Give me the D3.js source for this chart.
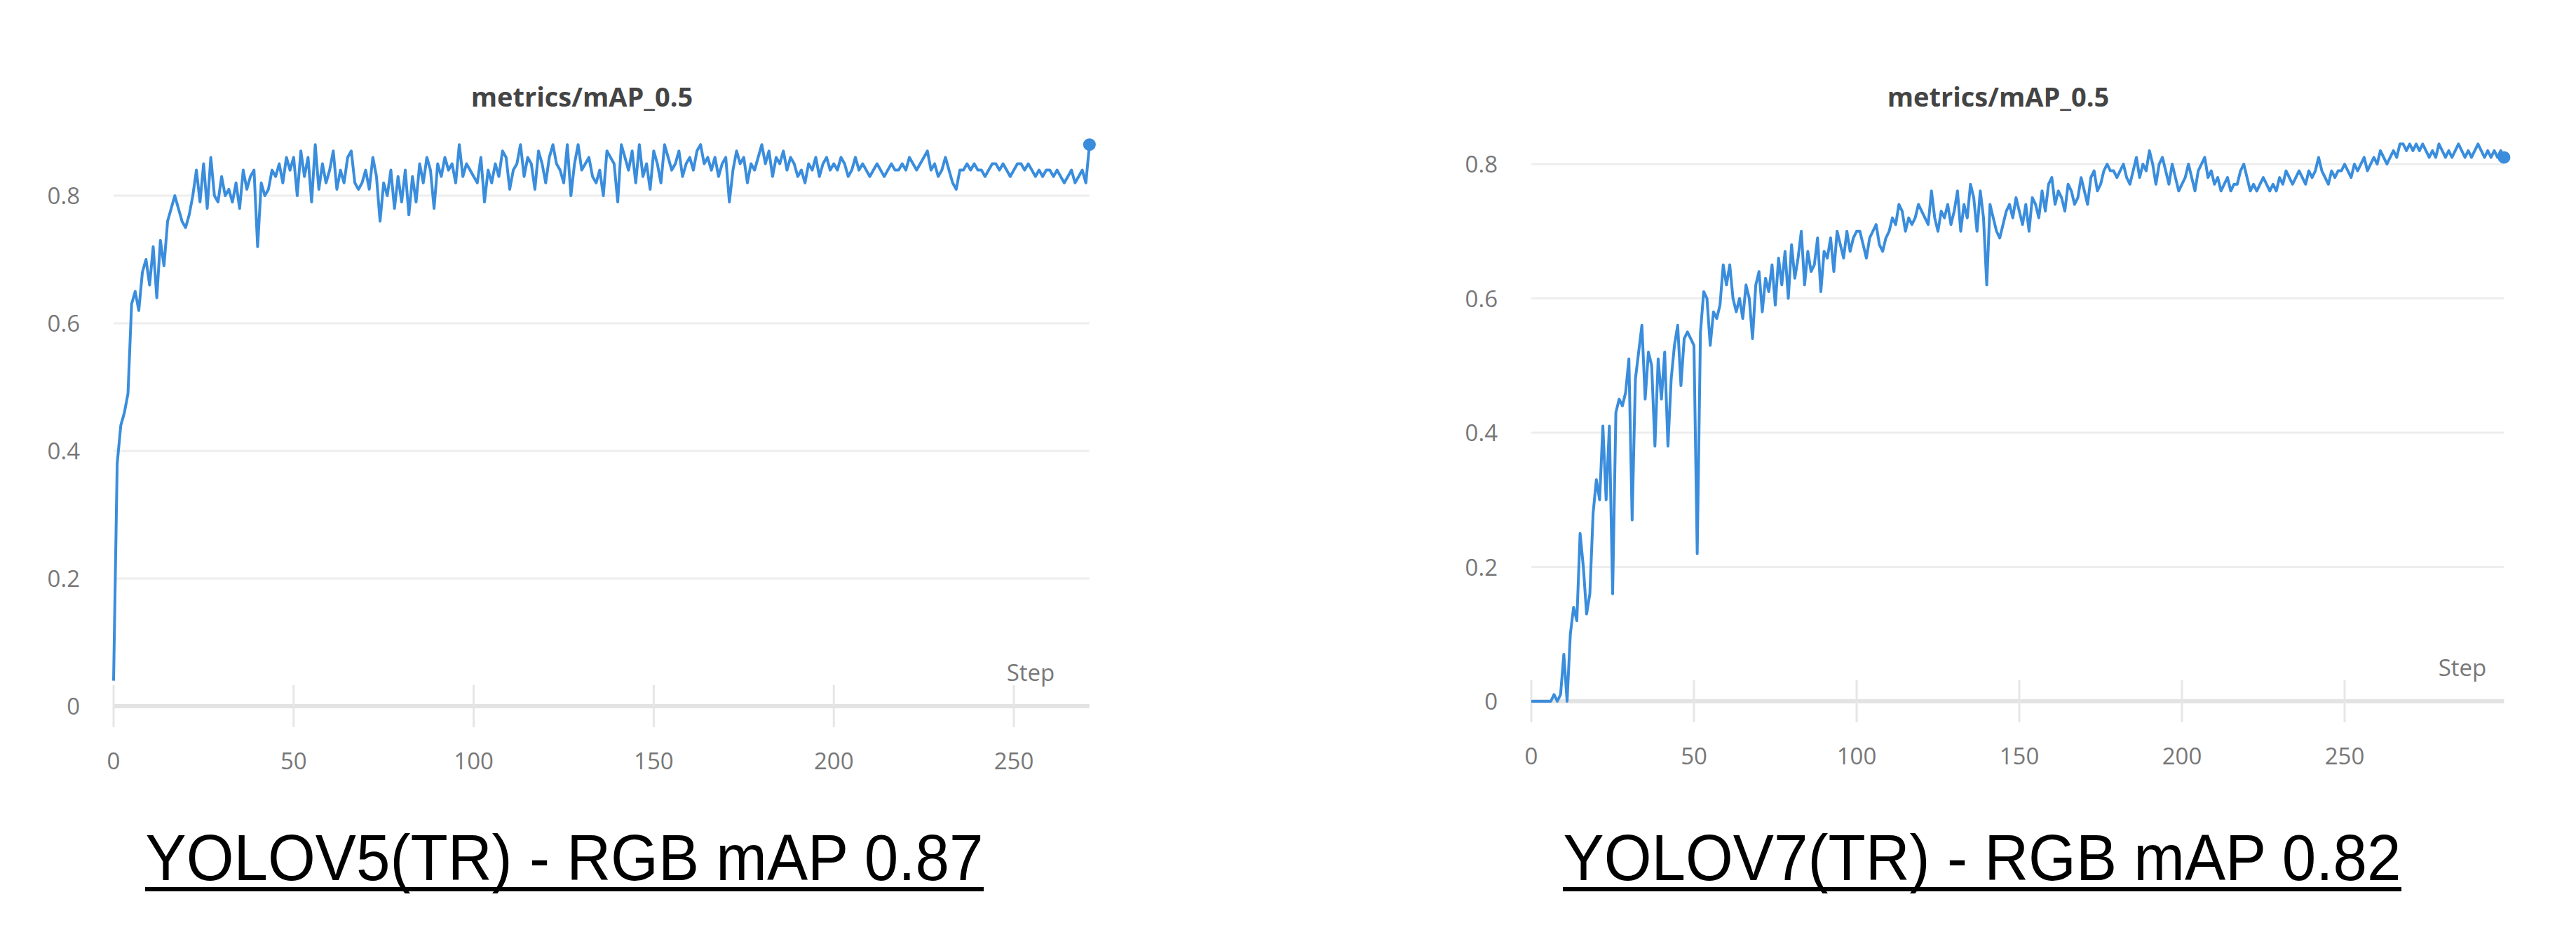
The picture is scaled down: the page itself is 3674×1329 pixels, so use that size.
<!DOCTYPE html>
<head>
    <script src="https://d3js.org/d3.v7.min.js"></script>
    <style>body{margin:0;background:#fff}</style>
</head>
<body>
    <svg class="chart" height="1329" width="3674"></svg>
    <script>
        // YOLOv5 mAP_0.5 per step
        var v5Values = [
        .04,.38,.44,.46,.49,.63,.65,.62,.68,.70,
        .66,.72,.64,.73,.69,.76,.78,.80,.78,.76,
        .75,.77,.80,.84,.79,.85,.78,.86,.80,.79,
        .83,.80,.81,.79,.82,.78,.84,.81,.83,.84,
        .72,.82,.80,.81,.84,.83,.85,.82,.86,.84,
        .86,.80,.87,.83,.86,.79,.88,.81,.85,.82,
        .84,.87,.81,.84,.82,.86,.87,.82,.81,.82,
        .84,.81,.86,.83,.76,.82,.80,.84,.78,.83,
        .79,.84,.77,.83,.79,.85,.82,.86,.84,.78,
        .85,.83,.86,.84,.85,.82,.88,.83,.85,.84,
        .83,.82,.86,.79,.84,.82,.85,.83,.87,.86,
        .81,.84,.85,.88,.83,.86,.85,.81,.87,.85,
        .82,.86,.88,.85,.84,.82,.88,.80,.85,.88,
        .84,.85,.86,.83,.82,.84,.80,.87,.86,.85,
        .79,.88,.86,.84,.87,.82,.88,.83,.85,.81,
        .87,.85,.82,.88,.86,.84,.85,.87,.83,.85,
        .86,.84,.87,.88,.85,.86,.84,.86,.83,.85,
        .86,.79,.84,.87,.85,.86,.82,.85,.84,.86,
        .88,.85,.87,.83,.86,.85,.87,.84,.86,.85,
        .83,.84,.82,.85,.84,.86,.83,.85,.86,.84,
        .85,.84,.86,.85,.83,.84,.86,.84,.85,.84,
        .83,.84,.85,.84,.83,.84,.85,.84,.84,.85,
        .84,.86,.85,.84,.85,.86,.87,.84,.85,.83,
        .84,.86,.84,.82,.81,.84,.84,.85,.84,.85,
        .84,.84,.83,.84,.85,.85,.84,.85,.84,.83,
        .84,.85,.85,.84,.85,.84,.83,.84,.83,.84,
        .84,.83,.84,.83,.82,.83,.84,.82,.83,.84,
        .82,.88
        ]

        // YOLOv7 mAP_0.5 per step
        var v7Values = [
        0,0,0,0,0,0,0,.01,0,.01,
        .07,0,.10,.14,.12,.25,.20,.13,.16,.28,
        .33,.30,.41,.30,.41,.16,.43,.45,.44,.46,
        .51,.27,.48,.52,.56,.45,.52,.50,.38,.51,
        .45,.52,.38,.48,.53,.56,.47,.54,.55,.54,
        .53,.22,.55,.61,.60,.53,.58,.57,.59,.65,
        .62,.65,.60,.58,.60,.57,.62,.60,.54,.62,
        .64,.58,.63,.61,.65,.59,.66,.62,.67,.60,
        .68,.63,.66,.70,.62,.67,.64,.65,.69,.61,
        .67,.66,.69,.64,.70,.68,.66,.70,.67,.69,
        .70,.70,.68,.66,.69,.70,.71,.68,.67,.69,
        .70,.72,.71,.74,.73,.70,.72,.71,.72,.74,
        .73,.72,.71,.76,.72,.70,.73,.72,.74,.71,
        .73,.76,.70,.74,.72,.77,.75,.70,.76,.72,
        .62,.74,.72,.70,.69,.71,.73,.74,.72,.75,
        .73,.71,.74,.70,.75,.74,.72,.76,.73,.77,
        .78,.74,.76,.75,.73,.77,.76,.74,.75,.78,
        .76,.74,.78,.79,.76,.77,.79,.80,.79,.79,
        .78,.79,.80,.78,.77,.79,.81,.78,.80,.79,
        .82,.80,.77,.80,.81,.79,.77,.80,.78,.76,
        .77,.78,.80,.78,.76,.79,.80,.81,.78,.79,
        .77,.78,.76,.77,.78,.76,.77,.77,.79,.80,
        .78,.76,.77,.76,.77,.78,.77,.76,.77,.76,
        .78,.77,.79,.78,.77,.78,.79,.78,.77,.79,
        .78,.79,.81,.79,.78,.77,.79,.78,.79,.79,
        .80,.79,.78,.80,.79,.80,.81,.79,.80,.81,
        .80,.82,.81,.80,.81,.82,.81,.83,.83,.82,
        .83,.82,.83,.82,.83,.82,.81,.82,.81,.83,
        .82,.81,.82,.81,.82,.83,.82,.81,.82,.81,
        .82,.83,.82,.81,.82,.81,.82,.81,.82,.81
        ]

        var xTicks = [0, 50, 100, 150, 200, 250]
        var yTicks = [0, 0.2, 0.4, 0.6, 0.8]

        var svg = d3.select("svg")

        function drawChart(values, cfg) {
            var xScale = d3.scaleLinear().domain([0, 250]).range([cfg.x0, cfg.x250])
            var yScale = d3.scaleLinear().domain([0, 0.8]).range([cfg.y0, cfg.y8])
            var xEnd = xScale(values.length - 1)
            var g = svg.append("g")

            // grid
            g.selectAll(".grid").data(yTicks.slice(1)).enter().append("line")
            .attr("x1", cfg.x0).attr("x2", xEnd)
            .attr("y1", d => yScale(d)).attr("y2", d => yScale(d))
            .style("stroke", "#eeeeee").style("stroke-width", 3)

            // baseline + ticks
            g.append("line").attr("x1", cfg.x0).attr("x2", xEnd)
            .attr("y1", yScale(0)).attr("y2", yScale(0))
            .style("stroke", "#e3e3e3").style("stroke-width", 6)
            g.selectAll(".xt").data(xTicks).enter().append("line")
            .attr("x1", d => xScale(d)).attr("x2", d => xScale(d))
            .attr("y1", yScale(0) - 30).attr("y2", yScale(0) + 30)
            .style("stroke", "#e6e6e6").style("stroke-width", 3)

            g.selectAll(".xl").data(xTicks).enter().append("text")
            .attr("x", d => xScale(d)).attr("y", yScale(0) + 90)
            .attr("text-anchor", "middle").text(d => d)
            .style("font-family", "Open Sans").style("font-size", "33px").style("fill", "#777")
            g.selectAll(".yl").data(yTicks).enter().append("text")
            .attr("x", cfg.x0 - 48).attr("y", d => yScale(d) + 12)
            .attr("text-anchor", "end").text(d => d)
            .style("font-family", "Open Sans").style("font-size", "33px").style("fill", "#777")

            g.append("text").attr("x", cfg.stepX).attr("y", yScale(0) - 36)
            .attr("text-anchor", "middle").text("Step")
            .style("font-family", "Open Sans").style("font-size", "33px").style("fill", "#777")

            g.append("text").attr("x", cfg.titleX).attr("y", 152)
            .attr("text-anchor", "middle").text("metrics/mAP_0.5")
            .style("font-family", "Open Sans").style("font-weight", "bold")
            .style("font-size", "38px").style("fill", "#444")

            var line = d3.line().x((d, i) => xScale(i)).y(d => yScale(d))
            g.append("path").datum(values).attr("d", line)
            .style("fill", "none").style("stroke", "#3a8ddc").style("stroke-width", 4)
            .style("stroke-linejoin", "round")

            g.append("circle").attr("cx", xEnd)
            .attr("cy", yScale(values[values.length - 1])).attr("r", 9)
            .style("fill", "#3a8ddc")

            g.append("text").attr("x", cfg.capX).attr("y", 1255)
            .attr("text-anchor", "middle").text(cfg.caption)
            .attr("textLength", 1195).attr("lengthAdjust", "spacingAndGlyphs")
            .style("font-family", "Liberation Sans")
            .style("font-size", "92px").style("fill", "#000")
            g.append("line").attr("x1", cfg.capX - 598).attr("x2", cfg.capX + 598)
            .attr("y1", 1268).attr("y2", 1268)
            .style("stroke", "#000").style("stroke-width", 6)
        }

        drawChart(v5Values, {x0: 162, x250: 1446, y0: 1007, y8: 279,
            stepX: 1470, titleX: 830, capX: 805, caption: "YOLOV5(TR) - RGB mAP 0.87"})
        drawChart(v7Values, {x0: 2184, x250: 3344, y0: 1000, y8: 234,
            stepX: 3512, titleX: 2850, capX: 2827, caption: "YOLOV7(TR) - RGB mAP 0.82"})
    </script>
</body>
